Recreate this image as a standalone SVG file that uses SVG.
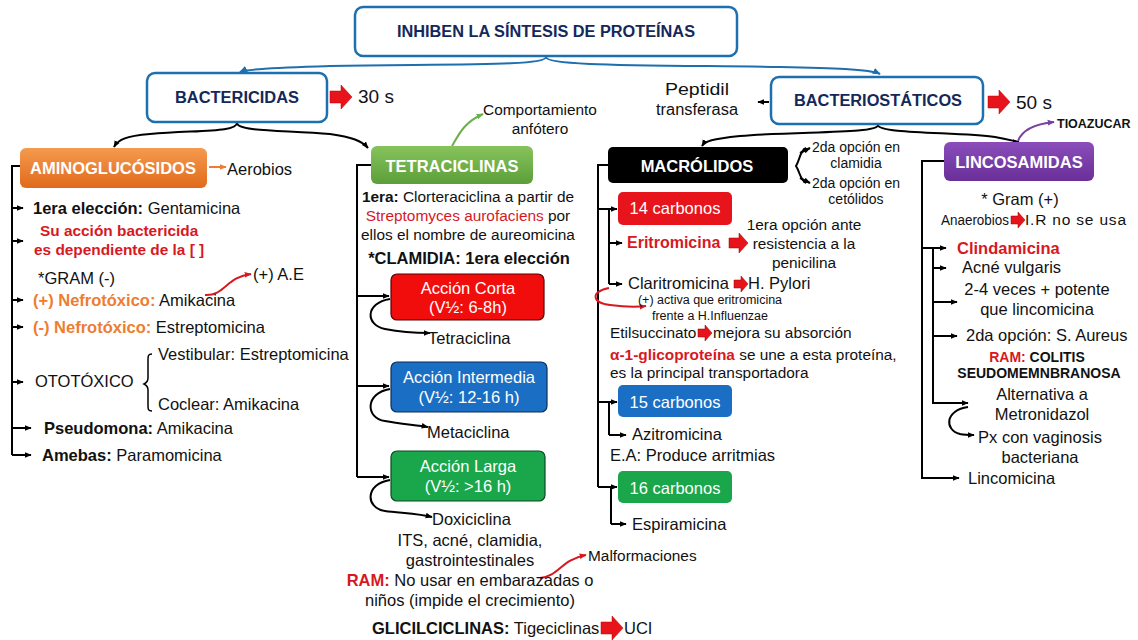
<svg xmlns="http://www.w3.org/2000/svg" width="1138" height="640" viewBox="0 0 1138 640">
<defs>
<marker id="ah" viewBox="0 0 10 10" refX="9" refY="5" markerWidth="7" markerHeight="7" orient="auto" markerUnits="userSpaceOnUse"><path d="M0,1 L10,5 L0,9 z" fill="#000"/></marker>
<marker id="ahb" viewBox="0 0 10 10" refX="9" refY="5" markerWidth="8" markerHeight="8" orient="auto" markerUnits="userSpaceOnUse"><path d="M0,1 L10,5 L0,9 z" fill="#1d6fae"/></marker>
<marker id="ahr" viewBox="0 0 10 10" refX="9" refY="5" markerWidth="7" markerHeight="7" orient="auto" markerUnits="userSpaceOnUse"><path d="M0,1 L10,5 L0,9 z" fill="#d7191f"/></marker>
<marker id="aho" viewBox="0 0 10 10" refX="9" refY="5" markerWidth="7" markerHeight="7" orient="auto" markerUnits="userSpaceOnUse"><path d="M0,1 L10,5 L0,9 z" fill="#ee7d31"/></marker>
<marker id="ahg" viewBox="0 0 10 10" refX="9" refY="5" markerWidth="7" markerHeight="7" orient="auto" markerUnits="userSpaceOnUse"><path d="M0,1 L10,5 L0,9 z" fill="#6ab04c"/></marker>
<marker id="ahp" viewBox="0 0 10 10" refX="9" refY="5" markerWidth="7" markerHeight="7" orient="auto" markerUnits="userSpaceOnUse"><path d="M0,1 L10,5 L0,9 z" fill="#7a3fa0"/></marker>
<path id="bigArrow" d="M0,-6 L11,-6 L11,-12 L22,0 L11,12 L11,6 L0,6 z" fill="#e8141b" stroke="#b00" stroke-width="0.5"/>
<path id="midArrow" d="M0,-5 L10,-5 L10,-10 L19,0 L10,10 L10,5 L0,5 z" fill="#e8141b" stroke="#900" stroke-width="0.5"/>
<path id="smArrow" d="M0,-4 L7,-4 L7,-8 L14,0 L7,8 L7,4 L0,4 z" fill="#e8141b" stroke="#900" stroke-width="0.5"/>
<linearGradient id="gOr" x1="0" y1="0" x2="0" y2="1"><stop offset="0" stop-color="#f59a4e"/><stop offset="1" stop-color="#e06a1b"/></linearGradient>
<linearGradient id="gGr" x1="0" y1="0" x2="0" y2="1"><stop offset="0" stop-color="#86c35c"/><stop offset="1" stop-color="#5d9e3a"/></linearGradient>
<linearGradient id="gPu" x1="0" y1="0" x2="0" y2="1"><stop offset="0" stop-color="#8a4dbb"/><stop offset="1" stop-color="#6a2f98"/></linearGradient>
</defs>
<style>
text{font-family:"Liberation Sans",Arial,sans-serif;fill:#111;}
.t{font-size:16.5px;}
.s{font-size:15.4px;}
.xs{font-size:14px;}
.b{font-weight:bold;}
.red{fill:#d7191f;}
.org{fill:#ee7d31;}
.w{fill:#fff;}
.nv{fill:#14285a;font-weight:bold;}
.mid{text-anchor:middle;}
.blueBox{fill:#fff;stroke:#1d6fae;stroke-width:2.5;}
.ln{fill:none;stroke:#000;stroke-width:2;}
.la{fill:none;stroke:#000;stroke-width:2;marker-end:url(#ah);}
</style>
<rect width="1138" height="640" fill="#fff"/>

<g id="connectors">
<path d="M546,57 C546,66 460,64 330,66 C300,67 248,68 240,72" fill="none" stroke="#1d6fae" stroke-width="2" marker-end="url(#ahb)"/>
<path d="M546,57 C546,66 640,65 780,67 C830,68 870,69 880,74" fill="none" stroke="#1d6fae" stroke-width="2" marker-end="url(#ahb)"/>
<path d="M237,123 C237,132 200,130 150,134 C125,136 118,140 114,147" class="la"/>
<path d="M237,123 C237,132 290,130 330,134 C352,137 362,141 368,148" class="la"/>
<path d="M878,125 C878,134 800,131 740,136 C712,139 705,141 702,146" class="la"/>
<path d="M878,125 C878,134 960,132 995,137 C1012,140 1017,142 1019,142" class="la"/>
<path d="M769,102 L758,102" class="la"/>
<!-- aminoglucosidos bracket -->
<path d="M20,166 L12,166 L12,455" class="ln"/>
<path d="M12,208 L23,208" class="la"/>
<path d="M12,241 L23,241" class="la"/>
<path d="M12,300 L23,300" class="la"/>
<path d="M12,327 L23,327" class="la"/>
<path d="M12,382 L23,382" class="la"/>
<path d="M12,428 L31,428" class="la"/>
<path d="M12,455 L31,455" class="la"/>
<path d="M209,167 L226,167" fill="none" stroke="#ee7d31" stroke-width="2" marker-end="url(#aho)"/>
<path d="M205,295 C225,296 226,277 251,274" fill="none" stroke="#d7191f" stroke-width="2" marker-end="url(#ahr)"/>
<path d="M152,354 C148,354 148,356 148,360 L148,378 C148,382 146,383 144,384 C146,385 148,386 148,390 L148,406 C148,409 148,411 152,411" fill="none" stroke="#000" stroke-width="1.5"/>
<!-- tetraciclinas -->
<path d="M371,165 L357,165 L357,477" class="ln"/>
<path d="M357,296 L389,296" class="la"/>
<path d="M357,386 L389,386" class="la"/>
<path d="M357,477 L389,477" class="la"/>
<path d="M390,299 C365,303 365,325 385,329 C400,332 418,333 430,333" class="la"/>
<path d="M390,389 C365,393 365,418 385,421 C400,424 418,425 428,427" class="la"/>
<path d="M390,480 C365,484 365,508 385,511 C400,513 420,514 432,517" class="la"/>
<path d="M452,146 C460,132 465,122 483,114" fill="none" stroke="#6ab04c" stroke-width="2" marker-end="url(#ahg)"/>
<path d="M540,578 C560,576 560,560 586,555" fill="none" stroke="#d7191f" stroke-width="2" marker-end="url(#ahr)"/>
<!-- macrolidos -->
<path d="M608,165 L598,165 L598,487" class="ln"/>
<path d="M598,209 L617,209" class="la"/>
<path d="M609,209 L609,284" class="ln"/>
<path d="M609,243 L622,243" class="la"/>
<path d="M609,284 L622,284" class="la"/>
<path d="M598,402 L617,402" class="la"/>
<path d="M609,402 L609,435" class="ln"/>
<path d="M609,435 L626,435" class="la"/>
<path d="M598,487 L617,487" class="la"/>
<path d="M611,487 L611,524" class="ln"/>
<path d="M611,524 L626,524" class="la"/>
<path d="M609,288 C590,292 592,303 610,305 C625,307 638,307 646,306" fill="none" stroke="#d7191f" stroke-width="2" marker-end="url(#ahr)"/>
<path d="M806,148 C800,150 800,160 796,166 C800,172 800,180 806,183" class="ln"/>
<path d="M800,153 L810,148" class="la"/>
<path d="M800,178 L810,183" class="la"/>
<!-- lincosamidas -->
<path d="M944,161 L922,161 L922,478 L959,478" class="la"/>
<path d="M933,248 L933,403 L968,403" class="la"/>
<path d="M922,248 L946,248" class="la"/>
<path d="M933,268 L946,268" class="la"/>
<path d="M933,302 L957,302" class="la"/>
<path d="M933,336 L957,336" class="la"/>
<path d="M968,407 C945,410 944,430 960,434 C965,435 970,435 974,435" class="la"/>
<path d="M1018,141 C1022,130 1035,124 1054,122" fill="none" stroke="#7a3fa0" stroke-width="2" marker-end="url(#ahp)"/>
</g>

<g id="n-top">
<rect x="355" y="7" width="382" height="49" rx="8" class="blueBox"/>
<text x="546" y="37" class="nv mid" font-size="16" textLength="298" lengthAdjust="spacingAndGlyphs">INHIBEN LA SÍNTESIS DE PROTEÍNAS</text>
</g>
<g id="n-bactericidas">
<rect x="147" y="73" width="180" height="49" rx="8" class="blueBox"/>
<text x="237" y="103" class="nv mid" font-size="16" textLength="124" lengthAdjust="spacingAndGlyphs">BACTERICIDAS</text>
<use href="#bigArrow" x="330" y="97"/>
<text x="358" y="103" font-size="19">30 s</text>
</g>
<g id="n-bacteriostaticos">
<rect x="771" y="77" width="212" height="47" rx="8" class="blueBox"/>
<text x="878" y="106" class="nv mid" font-size="16" textLength="168" lengthAdjust="spacingAndGlyphs">BACTERIOSTÁTICOS</text>
<use href="#bigArrow" x="988" y="102"/>
<text x="1016" y="109" font-size="19">50 s</text>
<text x="697" y="95" class="mid" font-size="16" textLength="64" lengthAdjust="spacingAndGlyphs">Peptidil</text>
<text x="697" y="115" class="mid" font-size="16" textLength="82" lengthAdjust="spacingAndGlyphs">transferasa</text>
</g>

<g id="n-aminoglucosidos">
<rect x="20" y="148" width="187" height="40" rx="6" fill="url(#gOr)"/>
<text x="113" y="174" class="w b mid" font-size="16.5">AMINOGLUCÓSIDOS</text>
<text x="227" y="175" class="t">Aerobios</text>
<text x="33" y="214" class="t"><tspan class="b">1era elección:</tspan> Gentamicina</text>
<text x="40" y="236" class="s b red">Su acción bactericida</text>
<text x="34" y="255" class="s b red">es dependiente de la [ ]</text>
<text x="38" y="284" class="t">*GRAM (-)</text>
<text x="253" y="280" class="t">(+) A.E</text>
<text x="33" y="306" class="t"><tspan class="b org">(+) Nefrotóxico:</tspan> Amikacina</text>
<text x="33" y="333" class="t"><tspan class="b org">(-) Nefrotóxico:</tspan> Estreptomicina</text>
<text x="35" y="387" class="t">OTOTÓXICO</text>
<text x="158" y="360" class="t">Vestibular: Estreptomicina</text>
<text x="158" y="410" class="t">Coclear: Amikacina</text>
<text x="44" y="434" class="t"><tspan class="b">Pseudomona:</tspan> Amikacina</text>
<text x="42" y="461" class="t"><tspan class="b">Amebas:</tspan> Paramomicina</text>
</g>

<g id="n-tetraciclinas">
<rect x="371" y="146" width="162" height="38" rx="6" fill="url(#gGr)"/>
<text x="452" y="172" class="w b mid" font-size="16.5">TETRACICLINAS</text>
<text x="540" y="115" class="s mid">Comportamiento</text>
<text x="540" y="134" class="s mid">anfótero</text>
<text x="468" y="202" class="s mid"><tspan class="b">1era:</tspan> Clorteraciclina a partir de</text>
<text x="468" y="221" class="s mid"><tspan class="red">Streptomyces aurofaciens</tspan> por</text>
<text x="468" y="240" class="s mid">ellos el nombre de aureomicina</text>
<text x="469" y="264" class="t b mid">*CLAMIDIA: 1era elección</text>
</g>
<g id="n-corta">
<rect x="391" y="274" width="153" height="46" rx="6" fill="#f20d0d" stroke="#5a0000" stroke-width="1.2"/>
<text x="468" y="294" class="t w mid">Acción Corta</text>
<text x="468" y="313" class="t w mid">(V½: 6-8h)</text>
<text x="428" y="344" class="t">Tetraciclina</text>
</g>
<g id="n-intermedia">
<rect x="391" y="362" width="156" height="50" rx="6" fill="#1a6fc4" stroke="#0b2f5a" stroke-width="1.2"/>
<text x="469" y="383" class="t w mid">Acción Intermedia</text>
<text x="469" y="403" class="t w mid">(V½: 12-16 h)</text>
<text x="427" y="438" class="t">Metaciclina</text>
</g>
<g id="n-larga">
<rect x="391" y="451" width="154" height="50" rx="6" fill="#1aa64a" stroke="#0b4a20" stroke-width="1.2"/>
<text x="468" y="472" class="t w mid">Acción Larga</text>
<text x="468" y="492" class="t w mid">(V½: &gt;16 h)</text>
<text x="432" y="525" class="t">Doxiciclina</text>
<text x="470" y="546" class="t mid">ITS, acné, clamidia,</text>
<text x="470" y="566" class="t mid">gastrointestinales</text>
<text x="470" y="586" class="t mid"><tspan class="b red">RAM:</tspan> No usar en embarazadas o</text>
<text x="470" y="606" class="t mid">niños (impide el crecimiento)</text>
<text x="588" y="561" class="s">Malformaciones</text>
<text x="372" y="634" class="t"><tspan class="b">GLICILCICLINAS:</tspan> Tigeciclinas</text>
<use href="#bigArrow" x="601" y="628"/>
<text x="624" y="634" class="t">UCI</text>
</g>

<g id="n-macrolidos">
<rect x="608" y="147" width="180" height="36" rx="5" fill="#000"/>
<text x="697" y="172" class="w b mid" font-size="16.5">MACRÓLIDOS</text>
<text x="856" y="152" class="xs mid">2da opción en</text>
<text x="856" y="168" class="xs mid">clamidia</text>
<text x="856" y="188" class="xs mid">2da opción en</text>
<text x="856" y="204" class="xs mid">cetólidos</text>
</g>
<g id="n-14c">
<rect x="618" y="192" width="114" height="33" rx="5" fill="#e8141b"/>
<text x="675" y="214" class="t w mid">14 carbonos</text>
<text x="627" y="248" class="b red" font-size="16">Eritromicina</text>
<use href="#midArrow" x="729" y="243"/>
<text x="804" y="230" class="s mid">1era opción ante</text>
<text x="804" y="249" class="s mid">resistencia a la</text>
<text x="804" y="268" class="s mid">penicilina</text>
<text x="628" y="289" class="t">Claritromicina</text>
<use href="#smArrow" x="734" y="284"/>
<text x="748" y="289" class="t">H. Pylori</text>
<text x="710" y="304" class="mid" font-size="12.5">(+) activa que eritromicina</text>
<text x="710" y="320" class="mid" font-size="12.5">frente a H.Influenzae</text>
<text x="610" y="338" class="s">Etilsuccinato</text>
<use href="#smArrow" x="698" y="333"/>
<text x="713" y="338" class="s">mejora su absorción</text>
<text x="610" y="360" class="s"><tspan class="b red">α-1-glicoproteína</tspan> se une a esta proteína,</text>
<text x="610" y="378" class="s">es la principal transportadora</text>
</g>
<g id="n-15c">
<rect x="618" y="385" width="114" height="32" rx="5" fill="#1a6fc4"/>
<text x="675" y="408" class="t w mid">15 carbonos</text>
<text x="632" y="440" class="t">Azitromicina</text>
<text x="610" y="461" class="t">E.A: Produce arritmias</text>
</g>
<g id="n-16c">
<rect x="618" y="471" width="114" height="32" rx="5" fill="#1aa64a"/>
<text x="675" y="494" class="t w mid">16 carbonos</text>
<text x="632" y="530" class="t">Espiramicina</text>
</g>

<g id="n-lincosamidas">
<rect x="944" y="142" width="150" height="39" rx="6" fill="url(#gPu)"/>
<text x="1019" y="168" class="w b mid" font-size="16.5">LINCOSAMIDAS</text>
<text x="1057" y="128" class="b" font-size="12.5">TIOAZUCAR</text>
<text x="1020" y="205" class="t mid">* Gram (+)</text>
<text x="941" y="225" font-size="14" textLength="68" lengthAdjust="spacingAndGlyphs">Anaerobios</text>
<use href="#smArrow" x="1011" y="220"/>
<text x="1025" y="225" font-size="15.5" textLength="101" lengthAdjust="spacing">I.R no se usa</text>
<text x="957" y="254" class="b red" font-size="16.5">Clindamicina</text>
<text x="962" y="273" class="t">Acné vulgaris</text>
<text x="1037" y="295" class="t mid">2-4 veces + potente</text>
<text x="1037" y="315" class="t mid">que lincomicina</text>
<text x="966" y="341" class="t">2da opción: S. Aureus</text>
<text x="1037" y="362" class="b mid" font-size="14"><tspan class="red">RAM:</tspan> COLITIS</text>
<text x="1039" y="378" class="b mid" font-size="14">SEUDOMEMNBRANOSA</text>
<text x="1042" y="400" class="t mid">Alternativa a</text>
<text x="1042" y="420" class="t mid">Metronidazol</text>
<text x="1040" y="443" class="t mid">Px con vaginosis</text>
<text x="1040" y="463" class="t mid">bacteriana</text>
<text x="968" y="484" class="t">Lincomicina</text>
</g>
</svg>
